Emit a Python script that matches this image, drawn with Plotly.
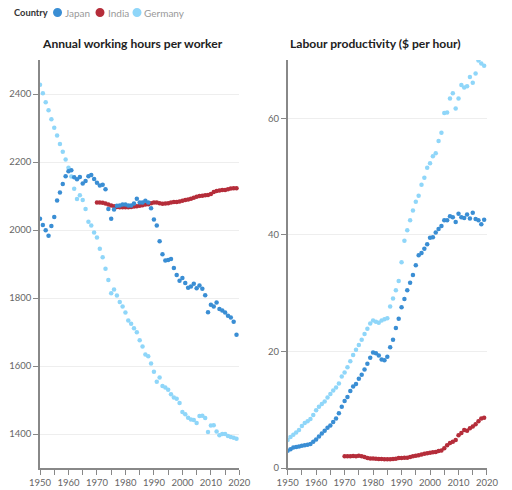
import plotly.graph_objects as go
from plotly.subplots import make_subplots

years = list(range(1950, 2020))
india_years = list(range(1970, 2020))

# Annual working hours per worker
hours_japan = [2033, 2015, 1999, 1983, 2012, 2038, 2087, 2110, 2135, 2158,
               2173, 2176, 2155, 2149, 2156, 2137, 2144, 2158, 2162, 2150,
               2139, 2131, 2133, 2120, 2062, 2033, 2060, 2071, 2072, 2075,
               2075, 2072, 2072, 2078, 2092, 2081, 2081, 2086, 2081, 2064,
               2031, 2013, 1967, 1929, 1910, 1912, 1915, 1888, 1868, 1851,
               1859, 1844, 1830, 1834, 1842, 1829, 1837, 1827, 1808, 1758,
               1780, 1775, 1787, 1768, 1763, 1757, 1748, 1743, 1730, 1692]
hours_germany = [2427, 2402, 2376, 2352, 2326, 2301, 2278, 2253, 2230, 2207,
                 2183, 2157, 2121, 2091, 2102, 2088, 2062, 2024, 2013, 1993,
                 1978, 1945, 1920, 1886, 1853, 1814, 1825, 1807, 1788, 1775,
                 1757, 1734, 1724, 1711, 1699, 1676, 1657, 1634, 1629, 1607,
                 1583, 1554, 1566, 1541, 1537, 1530, 1517, 1507, 1504, 1491,
                 1465, 1458, 1448, 1443, 1441, 1432, 1453, 1454, 1447, 1406,
                 1425, 1426, 1407, 1396, 1400, 1400, 1394, 1391, 1389, 1386]
hours_india = [2081, 2081, 2080, 2078, 2075, 2072, 2070, 2068, 2067, 2067,
               2067, 2067, 2068, 2069, 2070, 2071, 2073, 2075, 2076, 2079,
               2081, 2081, 2079, 2077, 2078, 2079, 2081, 2082, 2082, 2084,
               2086, 2088, 2090, 2092, 2095, 2098, 2100, 2101, 2102, 2103,
               2106, 2112, 2115, 2116, 2118, 2118, 2120, 2122, 2123, 2123]

# Labour productivity ($ per hour)
prod_japan = [2.95, 3.2, 3.5, 3.6, 3.7, 3.8, 3.9, 4.0, 4.1, 4.5,
              4.9, 5.4, 5.9, 6.4, 6.9, 7.3, 7.9, 8.5, 9.4, 10.5,
              11.5, 12.2, 13.2, 14.0, 14.4, 15.3, 16.0, 16.9, 17.9, 18.9,
              19.8, 19.7, 19.3, 18.6, 18.5, 19.1, 20.7, 22.0, 24.0, 25.6,
              27.6, 29.0, 30.5, 31.8, 33.1, 34.8, 36.5, 36.9, 37.6, 38.4,
              39.5, 39.6, 40.4, 41.0, 41.5, 42.5, 42.5, 43.2, 43.0, 42.2,
              43.6, 43.0, 42.9, 43.5, 42.8, 43.8, 42.7, 42.5, 41.8, 42.6]
prod_germany = [4.8, 5.3, 5.7, 6.1, 6.5, 7.2, 7.7, 8.0, 8.4, 9.1,
                9.9, 10.5, 11.0, 11.4, 12.1, 12.7, 13.3, 13.8, 14.5, 15.7,
                16.4, 17.3, 18.3, 19.4, 20.3, 21.1, 22.0, 23.0, 23.9, 24.8,
                25.3, 25.1, 24.9, 25.3, 25.5, 25.7, 27.7, 29.1, 30.5, 32.1,
                35.3, 39.0, 40.8, 42.5, 44.2, 45.7, 46.7, 48.6, 49.8, 51.5,
                52.3, 53.5, 54.0, 56.1, 57.5, 60.9, 61.0, 63.4, 64.3, 61.7,
                63.4, 65.7, 65.3, 65.5, 67.1, 66.1, 67.7, 69.9, 69.4, 69.0]
prod_india = [2.0, 2.0, 2.0, 2.05, 2.0, 2.1, 2.0, 1.9, 1.7, 1.65,
              1.65, 1.6, 1.55, 1.55, 1.5, 1.5, 1.5, 1.55, 1.6, 1.7,
              1.7, 1.75, 1.75, 1.9, 2.0, 2.1, 2.2, 2.3, 2.45, 2.55,
              2.6, 2.7, 2.75, 2.9, 3.0, 3.4, 3.9, 4.3, 4.5, 4.8,
              5.6, 6.0, 6.5, 6.4, 6.8, 7.1, 7.5, 8.0, 8.5, 8.6]

countries = ['Japan', 'India', 'Germany']
colors = {'Japan': '#3a8ed4', 'India': '#b52d3a', 'Germany': '#8fd6f9'}
font = 'Lato'

fig = make_subplots(rows=1, cols=2, horizontal_spacing=0.108)

series = [
    ('Germany', years, hours_germany, years, prod_germany),
    ('India', india_years, hours_india, india_years, prod_india),
    ('Japan', years, hours_japan, years, prod_japan),
]
for name, xh, yh, xp, yp in series:
    fig.add_trace(go.Scatter(x=xh, y=yh, mode='markers', name=name,
                             marker=dict(color=colors[name], size=4.5),
                             showlegend=False),
                  row=1, col=1)
    fig.add_trace(go.Scatter(x=xp, y=yp, mode='markers', name=name,
                             marker=dict(color=colors[name], size=4.5),
                             showlegend=False),
                  row=1, col=2)

axis_style = dict(showline=True, linecolor='#888', linewidth=1.5,
                  ticks='outside', tickcolor='#888', ticklen=5,
                  tickfont=dict(family=font, size=9.5, color='#666'),
                  zeroline=False)

fig.update_xaxes(range=[1950, 2020], dtick=10, showgrid=False, tickangle=0,
                 minor=dict(dtick=5, ticks='outside', ticklen=5, tickcolor='#888'),
                 **axis_style)
fig.update_yaxes(showgrid=True, gridcolor='#eeeeee', gridwidth=1, **axis_style)
fig.update_yaxes(range=[1300, 2500], tickvals=[1400, 1600, 1800, 2000, 2200, 2400],
                 row=1, col=1)
fig.update_yaxes(range=[0, 70], tickvals=[0, 20, 40, 60], row=1, col=2)

fig.add_annotation(text='<b>Annual working hours per worker</b>', xref='x domain', yref='paper',
                   x=0, y=1.04, xanchor='left', yanchor='middle', showarrow=False,
                   font=dict(family=font, size=12.1, color='#222'))
fig.add_annotation(text='<b>Labour productivity ($ per hour)</b>', xref='x2 domain', yref='paper',
                   x=0, y=1.04, xanchor='left', yanchor='middle', showarrow=False,
                   font=dict(family=font, size=12.1, color='#222'))

# hand-made legend row: dots as pixel-sized circles, labels as annotations
leg_y = 1.1164
fig.add_annotation(text='<b>Country</b>', xref='paper', yref='paper', x=-0.0626, y=leg_y,
                   xanchor='left', yanchor='middle', showarrow=False,
                   font=dict(family=font, size=9.3, color='#333'))
dot_x = [0.0392, 0.1342, 0.217]
label_x = [0.0515, 0.1477, 0.2282]
for name, dx, lx in zip(countries, dot_x, label_x):
    fig.add_shape(type='circle', xref='paper', yref='paper', xsizemode='pixel', ysizemode='pixel',
                  xanchor=dx, yanchor=leg_y, x0=-4.5, x1=4.5, y0=-4.5, y1=4.5,
                  fillcolor=colors[name], line=dict(width=0))
    fig.add_annotation(text=name, xref='paper', yref='paper', x=lx, y=leg_y,
                       xanchor='left', yanchor='middle', showarrow=False,
                       font=dict(family=font, size=10, color='#999'))

# page body keeps an 8px margin, so the figure is sized to sit inside it
fig.update_layout(width=504, height=482,
                  margin=dict(l=32, r=25, t=52, b=22, autoexpand=False),
                  plot_bgcolor='white', paper_bgcolor='white',
                  font=dict(family=font),
                  showlegend=False)

fig.write_html("out.html")
